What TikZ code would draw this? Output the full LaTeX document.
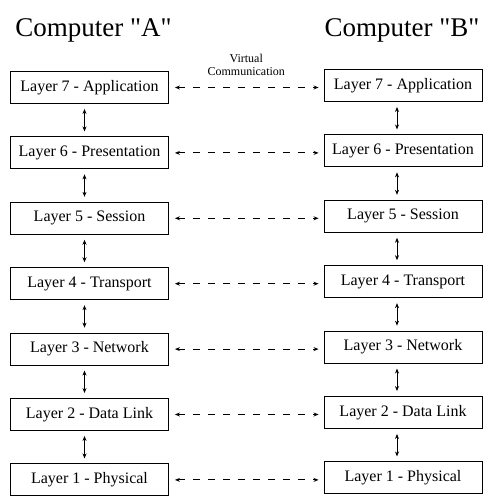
\documentclass[tikz,border=0pt]{standalone}
\usepackage{fontspec}
\setmainfont{Liberation Serif}[Ligatures=TeXOff]
\usetikzlibrary{arrows.meta,positioning,calc}

\begin{document}
\begin{tikzpicture}[
  layer/.style={draw=black, line width=0.9pt, align=center, inner sep=0pt,
    minimum width=158pt, minimum height=32pt, font=\fontsize{16}{19}\selectfont},
  title/.style={font=\fontsize{27}{30}\selectfont, inner sep=0pt},
  vert/.style={{Stealth[length=5pt,width=4pt]}-{Stealth[length=5pt,width=4pt]}, line width=0.9pt,
    shorten <=5pt, shorten >=5pt},
  virt/.style={{Stealth[length=5pt,width=4pt]}-{Stealth[length=5pt,width=4pt]}, line width=0.9pt,
    dash pattern=on 7pt off 8pt, shorten <=6pt, shorten >=5pt},
  note/.style={font=\fontsize{12}{13}\selectfont, align=center, inner sep=0pt},
  node distance=32.5pt
]
\useasboundingbox (0,0) rectangle (500pt,-500pt);

% headings
\node[title] (hA) at (93.5pt,-30pt) {Computer "A"};
\node[title] (hB) at (402pt,-30pt) {Computer "B"};

% computer A
\node[layer] (a7) at (89.5pt,-87.5pt) {Layer 7 - Application};
\node[layer, below=of a7] (a6) {Layer 6 - Presentation};
\node[layer, below=of a6] (a5) {Layer 5 - Session};
\node[layer, below=of a5] (a4) {Layer 4 - Transport};
\node[layer, below=of a4] (a3) {Layer 3 - Network};
\node[layer, below=of a3] (a2) {Layer 2 - Data Link};
\node[layer, below=of a2] (a1) {Layer 1 - Physical};

% computer B
\node[layer] (b7) at (403pt,-85.5pt) {Layer 7 - Application};
\node[layer, below=of b7] (b6) {Layer 6 - Presentation};
\node[layer, below=of b6] (b5) {Layer 5 - Session};
\node[layer, below=of b5] (b4) {Layer 4 - Transport};
\node[layer, below=of b4] (b3) {Layer 3 - Network};
\node[layer, below=of b3] (b2) {Layer 2 - Data Link};
\node[layer, below=of b2] (b1) {Layer 1 - Physical};

% stack arrows
\draw[vert] ([xshift=-5pt]a7.south) -- ([xshift=-5pt]a6.north);
\draw[vert] ([xshift=-5pt]a6.south) -- ([xshift=-5pt]a5.north);
\draw[vert] ([xshift=-5pt]a5.south) -- ([xshift=-5pt]a4.north);
\draw[vert] ([xshift=-5pt]a4.south) -- ([xshift=-5pt]a3.north);
\draw[vert] ([xshift=-5pt]a3.south) -- ([xshift=-5pt]a2.north);
\draw[vert] ([xshift=-5pt]a2.south) -- ([xshift=-5pt]a1.north);

\draw[vert] ([xshift=-6pt]b7.south) -- ([xshift=-6pt]b6.north);
\draw[vert] ([xshift=-6pt]b6.south) -- ([xshift=-6pt]b5.north);
\draw[vert] ([xshift=-6pt]b5.south) -- ([xshift=-6pt]b4.north);
\draw[vert] ([xshift=-6pt]b4.south) -- ([xshift=-6pt]b3.north);
\draw[vert] ([xshift=-6pt]b3.south) -- ([xshift=-6pt]b2.north);
\draw[vert] ([xshift=-6pt]b2.south) -- ([xshift=-6pt]b1.north);

% peer to peer
\draw[virt] (a7.east) -- (a7.east -| b7.west);
\draw[virt] (a6.east) -- (a6.east -| b6.west);
\draw[virt] (a5.east) -- (a5.east -| b5.west);
\draw[virt] (a4.east) -- (a4.east -| b4.west);
\draw[virt] (a3.east) -- (a3.east -| b3.west);
\draw[virt] (a2.east) -- (a2.east -| b2.west);
\draw[virt] (a1.east) -- (a1.east -| b1.west);

\node[note] (vc) at ($(a7.east)!0.5!(b7.west)+(0,22pt)$) {Virtual\\Communication};
\end{tikzpicture}
\end{document}
